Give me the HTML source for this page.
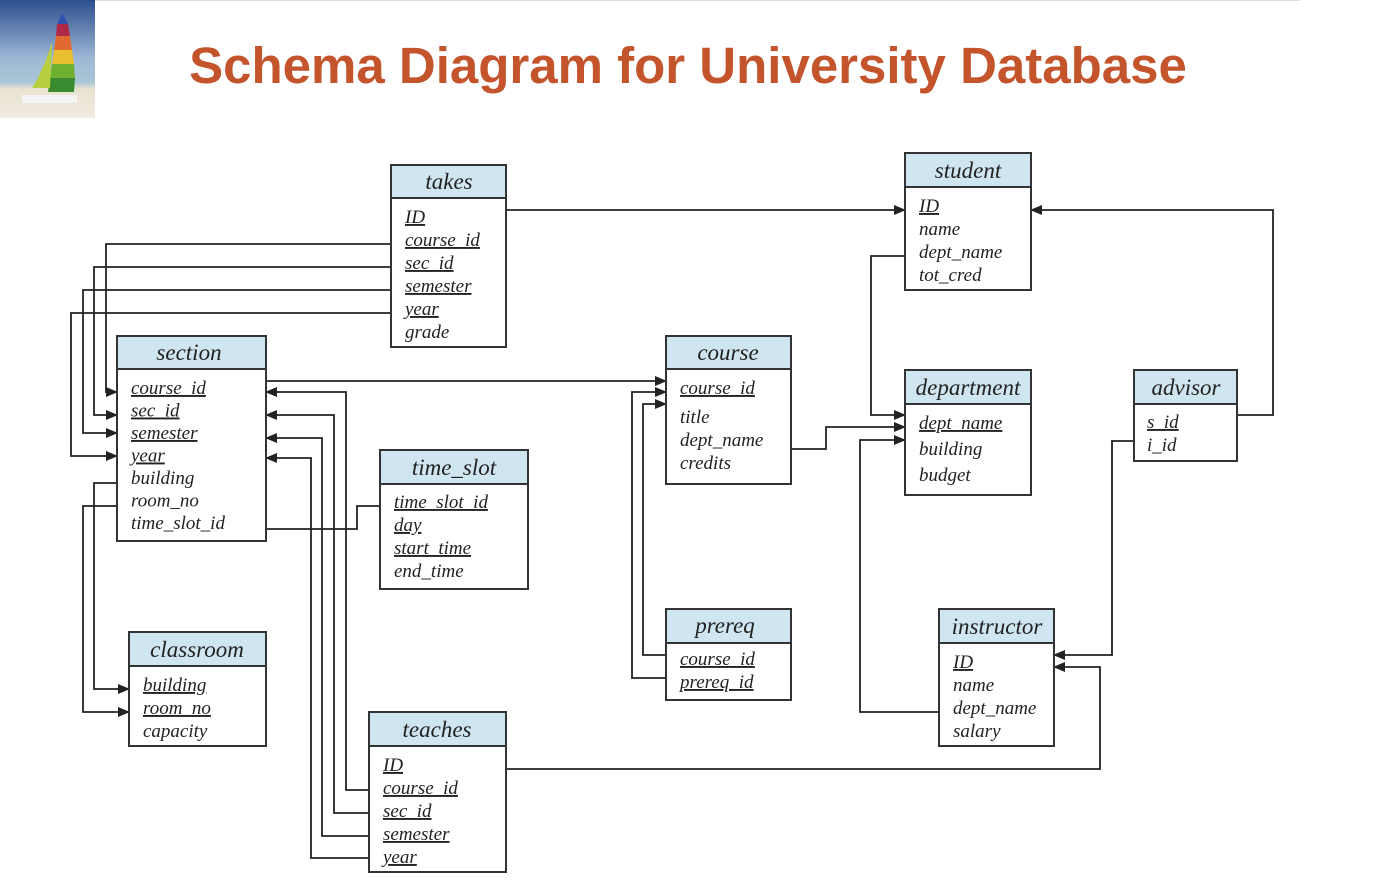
<!DOCTYPE html>
<html><head><meta charset="utf-8"><style>
html,body{margin:0;padding:0;background:#fff;width:1388px;height:888px;overflow:hidden}
svg{display:block}
.h{font-family:"Liberation Serif",serif;font-style:italic;font-size:23px;fill:#222;text-anchor:middle}
.a{font-family:"Liberation Serif",serif;font-style:italic;font-size:19px;fill:#222}
.u{text-decoration:underline}
.b{fill:#fff;stroke:#333;stroke-width:2}
.hd{fill:#cfe5ef;stroke:#333;stroke-width:2}
.l{fill:none;stroke:#222;stroke-width:1.8}
</style></head><body>
<svg width="1388" height="888" viewBox="0 0 1388 888">
<defs>
<marker id="ar" markerWidth="12" markerHeight="10" refX="11" refY="5" orient="auto" markerUnits="userSpaceOnUse"><path d="M0,0 L12,5 L0,10 z" fill="#222"/></marker>
<linearGradient id="sky" x1="0" y1="0" x2="0" y2="1"><stop offset="0" stop-color="#2c4f8c"/><stop offset="0.5" stop-color="#9fb8d6"/><stop offset="0.7" stop-color="#a9c7d6"/><stop offset="0.75" stop-color="#e8e2d0"/><stop offset="1" stop-color="#f1ece0"/></linearGradient>
</defs>
<line x1="0" y1="0.5" x2="1300" y2="0.5" stroke="#ddd"/>
<rect x="0" y="0" width="95" height="118" fill="url(#sky)"/>
<polygon points="62,13 68,24 57,24" fill="#3050b0"/>
<polygon points="57,24 68,24 70,36 56,36" fill="#b02848"/>
<polygon points="56,36 70,36 72,50 54,50" fill="#e06a30"/>
<polygon points="54,50 72,50 74,64 52,64" fill="#e8c030"/>
<polygon points="52,64 74,64 75,78 50,78" fill="#70b030"/>
<polygon points="50,78 75,78 74,92 48,92" fill="#3a8a30"/>
<polygon points="52,42 46,60 38,78 32,88 50,88" fill="#b8d040"/>
<rect x="22" y="95" width="55" height="8" fill="#f4f4f4"/>
<text x="688" y="83" font-family="Liberation Sans,sans-serif" font-weight="bold" font-size="51" fill="#c4542c" text-anchor="middle">Schema Diagram for University Database</text>

<g class="l" marker-end="url(#ar)">
<polyline points="506,210 905,210"/>
<polyline points="391,244 106,244 106,392 117,392"/>
<polyline points="391,267 94,267 94,415 117,415"/>
<polyline points="391,290 83,290 83,433 117,433"/>
<polyline points="391,313 71,313 71,456 117,456"/>
<polyline points="117,483 94,483 94,689 129,689"/>
<polyline points="117,506 83,506 83,712 129,712"/>
<polyline points="266,381 666,381"/>
<polyline points="369,790 346,790 346,392 266,392"/>
<polyline points="369,813 334,813 334,415 266,415"/>
<polyline points="369,836 322,836 322,438 266,438"/>
<polyline points="369,858 311,858 311,458 266,458"/>
<polyline points="506,769 1100,769 1100,667 1054,667"/>
<polyline points="905,256 871,256 871,415 905,415"/>
<polyline points="791,449 826,449 826,427 905,427"/>
<polyline points="939,712 860,712 860,440 905,440"/>
<polyline points="1237,415 1273,415 1273,210 1031,210"/>
<polyline points="1134,441 1112,441 1112,655 1054,655"/>
<polyline points="666,655 643,655 643,404 666,404"/>
<polyline points="666,678 632,678 632,392 666,392"/>
</g>
<polyline class="l" points="266,529 357,529 357,506 380,506"/>

<rect class="b" x="391" y="165" width="115" height="182"/><rect class="hd" x="391" y="165" width="115" height="33"/>
<text class="h" x="449" y="189">takes</text>
<text class="a" x="405" y="223"><tspan class="u">ID</tspan><tspan x="405" dy="23" class="u">course_id</tspan><tspan x="405" dy="23" class="u">sec_id</tspan><tspan x="405" dy="23" class="u">semester</tspan><tspan x="405" dy="23" class="u">year</tspan><tspan x="405" dy="23">grade</tspan></text>
<rect class="b" x="905" y="153" width="126" height="137"/><rect class="hd" x="905" y="153" width="126" height="34"/>
<text class="h" x="968" y="178">student</text>
<text class="a" x="919" y="212" font-size="17"><tspan class="u">ID</tspan><tspan x="919" dy="23">name</tspan><tspan x="919" dy="23">dept_name</tspan><tspan x="919" dy="23">tot_cred</tspan></text>
<rect class="b" x="117" y="336" width="149" height="205"/><rect class="hd" x="117" y="336" width="149" height="33"/>
<text class="h" x="189" y="360">section</text>
<text class="a" x="131" y="394"><tspan class="u">course_id</tspan><tspan x="131" dy="22.5" class="u">sec_id</tspan><tspan x="131" dy="22.5" class="u">semester</tspan><tspan x="131" dy="22.5" class="u">year</tspan><tspan x="131" dy="22.5">building</tspan><tspan x="131" dy="22.5">room_no</tspan><tspan x="131" dy="22.5">time_slot_id</tspan></text>
<rect class="b" x="666" y="336" width="125" height="148"/><rect class="hd" x="666" y="336" width="125" height="33"/>
<text class="h" x="728" y="360">course</text>
<text class="a" x="680" y="394"><tspan class="u">course_id</tspan><tspan x="680" dy="29">title</tspan><tspan x="680" dy="23">dept_name</tspan><tspan x="680" dy="23">credits</tspan></text>
<rect class="b" x="905" y="370" width="126" height="125"/><rect class="hd" x="905" y="370" width="126" height="34"/>
<text class="h" x="968" y="395">department</text>
<text class="a" x="919" y="429"><tspan class="u">dept_name</tspan><tspan x="919" dy="26">building</tspan><tspan x="919" dy="26">budget</tspan></text>
<rect class="b" x="1134" y="370" width="103" height="91"/><rect class="hd" x="1134" y="370" width="103" height="34"/>
<text class="h" x="1186" y="395">advisor</text>
<text class="a" x="1147" y="428" font-size="17"><tspan class="u">s_id</tspan><tspan x="1147" dy="23">i_id</tspan></text>
<rect class="b" x="380" y="450" width="148" height="139"/><rect class="hd" x="380" y="450" width="148" height="34"/>
<text class="h" x="454" y="475">time_slot</text>
<text class="a" x="394" y="508"><tspan class="u">time_slot_id</tspan><tspan x="394" dy="23" class="u">day</tspan><tspan x="394" dy="23" class="u">start_time</tspan><tspan x="394" dy="23">end_time</tspan></text>
<rect class="b" x="666" y="609" width="125" height="91"/><rect class="hd" x="666" y="609" width="125" height="34"/>
<text class="h" x="725" y="633">prereq</text>
<text class="a" x="680" y="665" font-size="18"><tspan class="u">course_id</tspan><tspan x="680" dy="23" class="u">prereq_id</tspan></text>
<rect class="b" x="939" y="609" width="115" height="137"/><rect class="hd" x="939" y="609" width="115" height="34"/>
<text class="h" x="997" y="634">instructor</text>
<text class="a" x="953" y="668" font-size="17"><tspan class="u">ID</tspan><tspan x="953" dy="23">name</tspan><tspan x="953" dy="23">dept_name</tspan><tspan x="953" dy="23">salary</tspan></text>
<rect class="b" x="129" y="632" width="137" height="114"/><rect class="hd" x="129" y="632" width="137" height="34"/>
<text class="h" x="197" y="657">classroom</text>
<text class="a" x="143" y="691"><tspan class="u">building</tspan><tspan x="143" dy="23" class="u">room_no</tspan><tspan x="143" dy="23">capacity</tspan></text>
<rect class="b" x="369" y="712" width="137" height="160"/><rect class="hd" x="369" y="712" width="137" height="34"/>
<text class="h" x="437" y="737">teaches</text>
<text class="a" x="383" y="771"><tspan class="u">ID</tspan><tspan x="383" dy="23" class="u">course_id</tspan><tspan x="383" dy="23" class="u">sec_id</tspan><tspan x="383" dy="23" class="u">semester</tspan><tspan x="383" dy="23" class="u">year</tspan></text>
</svg>
</body></html>
